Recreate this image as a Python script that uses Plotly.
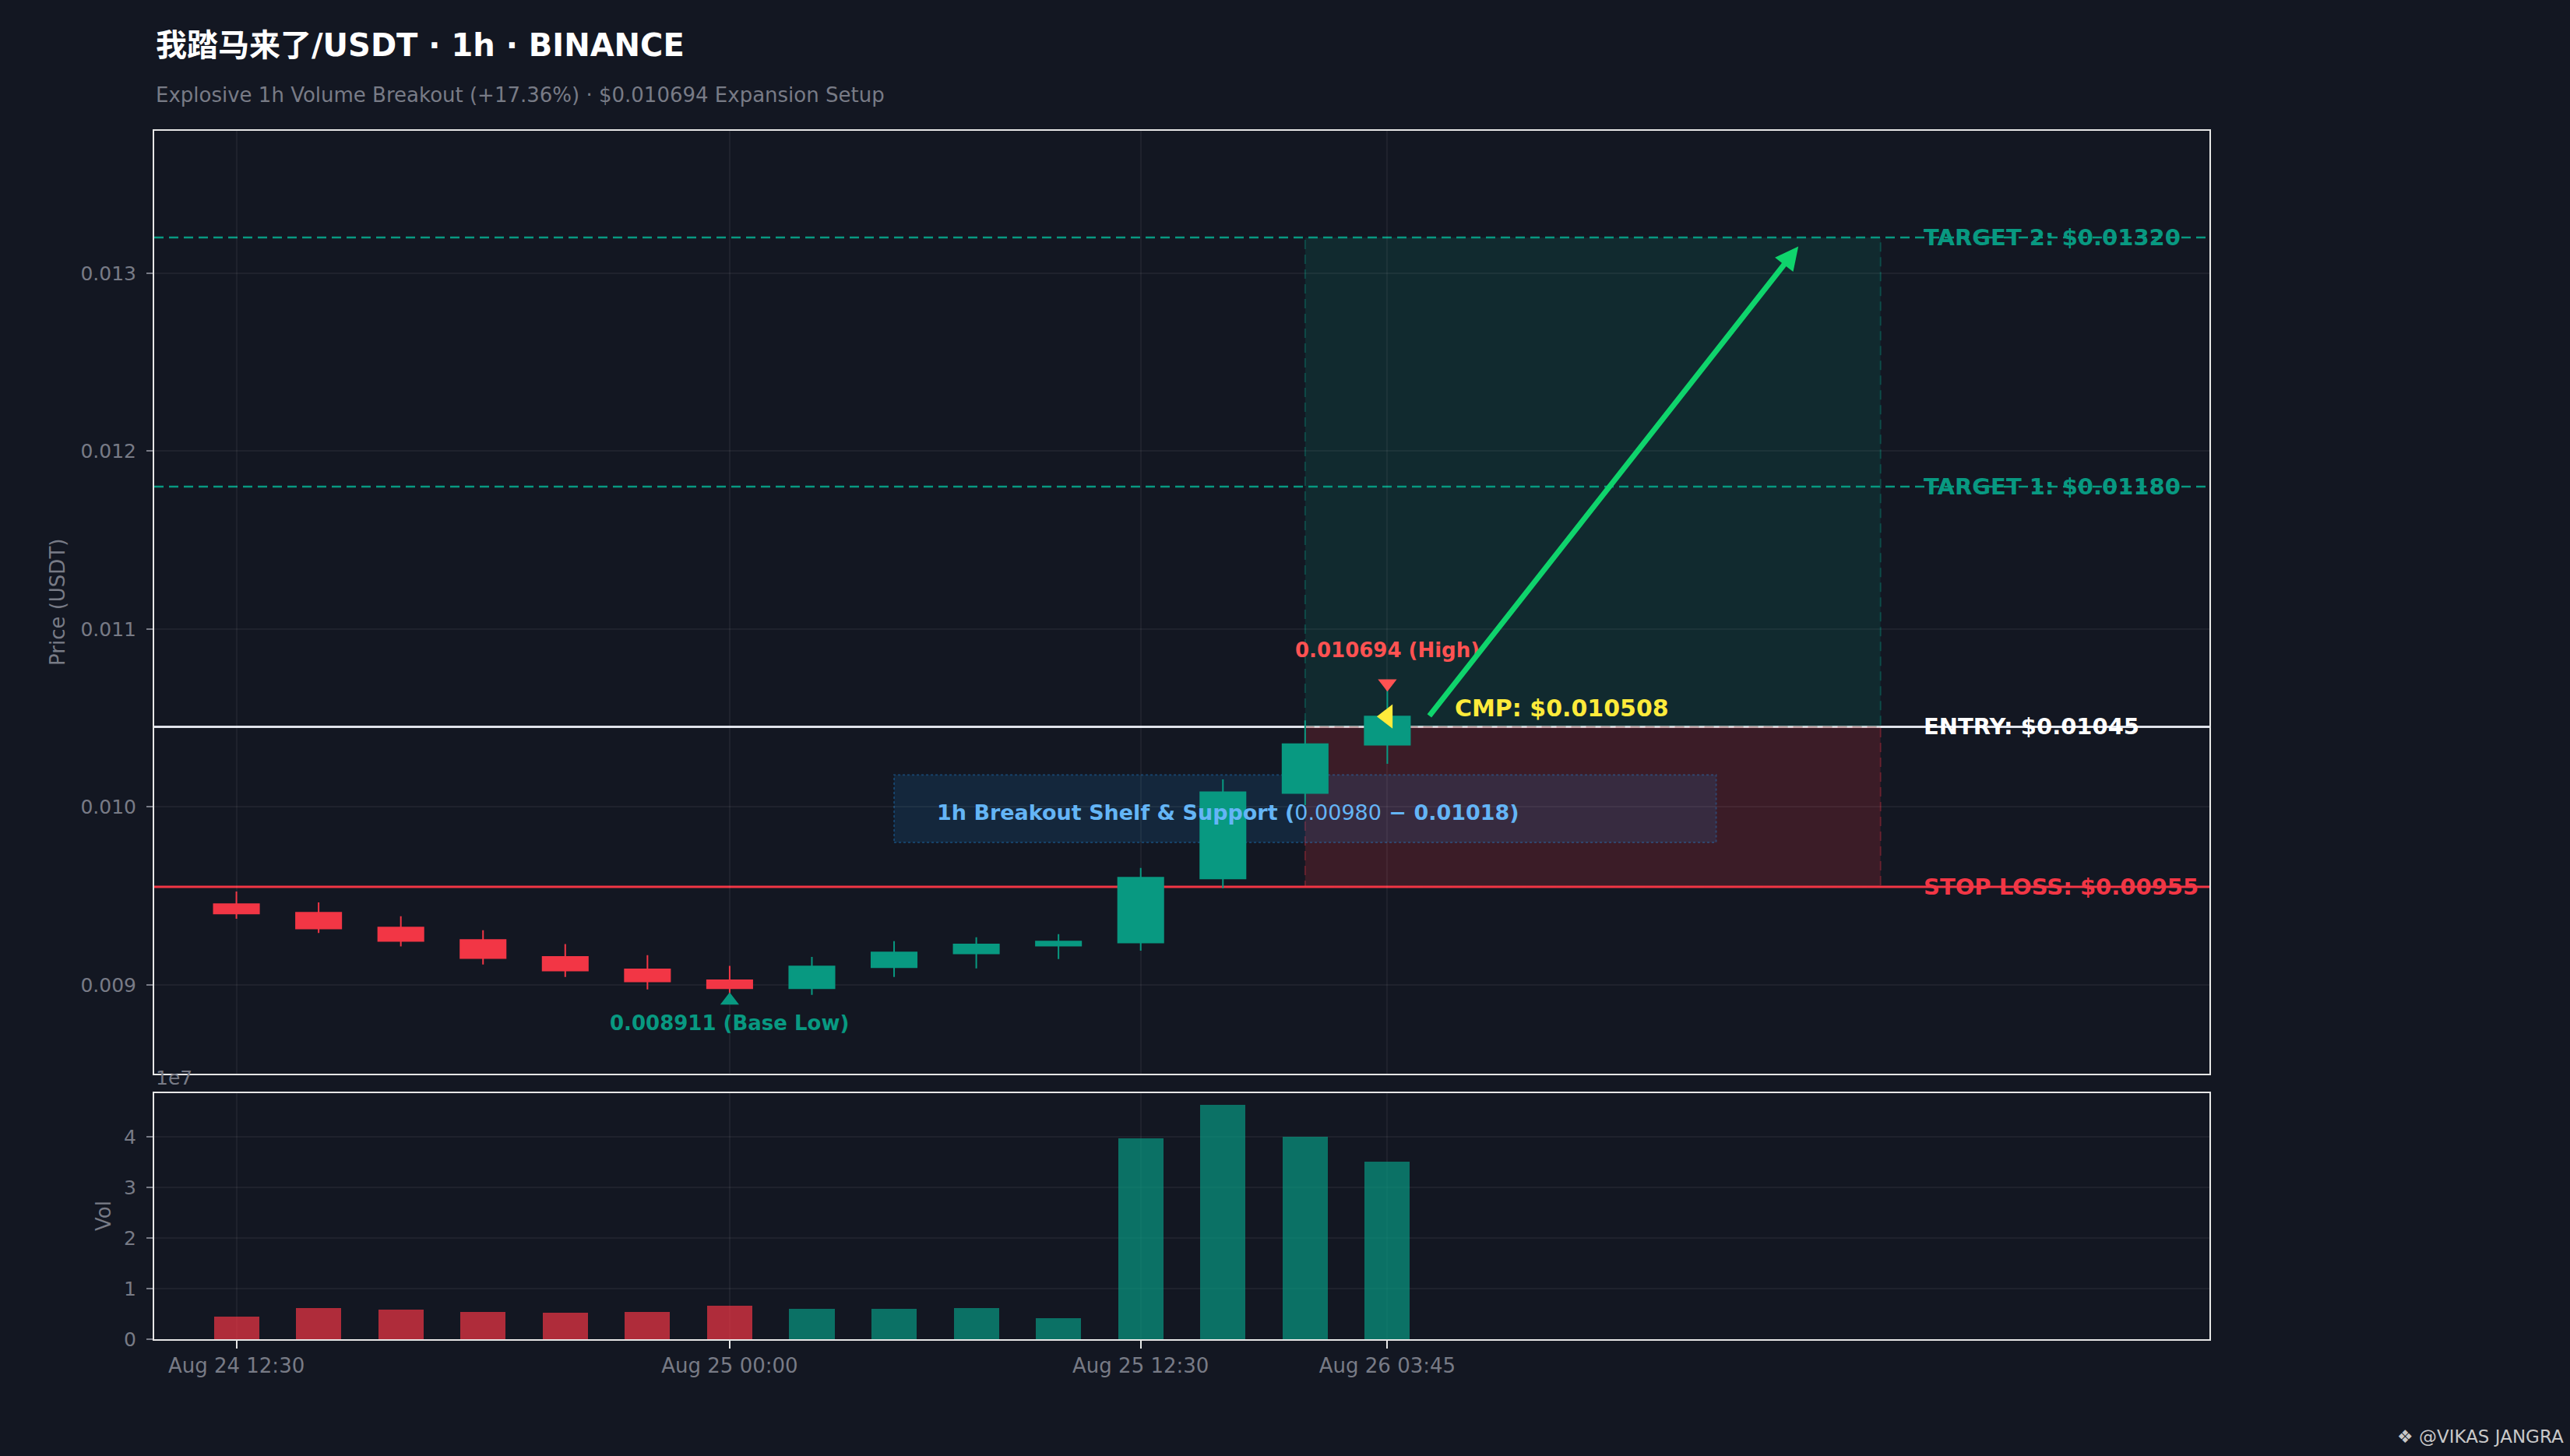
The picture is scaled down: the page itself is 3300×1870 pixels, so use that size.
import plotly.graph_objects as go

# ---------------- data ----------------
bar_idx = list(range(15))
tick_idx = [0, 6, 11, 14]
tick_text = ["Aug 24 12:30", "Aug 25 00:00", "Aug 25 12:30", "Aug 26 03:45"]

opens = [0.009453, 0.009405, 0.009322, 0.009252, 0.009156, 0.009086, 0.009025,
         0.008980, 0.009098, 0.009176, 0.009220, 0.009237, 0.009597, 0.010078, 0.010349]
highs = [0.009524, 0.009463, 0.009385, 0.009306, 0.009229, 0.009166, 0.009106,
         0.009157, 0.009245, 0.009267, 0.009284, 0.009656, 0.010154, 0.010486, 0.010694]
lows = [0.009371, 0.009291, 0.009216, 0.009114, 0.009044, 0.008974, 0.008911,
        0.008943, 0.009044, 0.009092, 0.009144, 0.009192, 0.009543, 0.010010, 0.010242]
closes = [0.009401, 0.009316, 0.009246, 0.009150, 0.009080, 0.009019, 0.008980,
          0.009103, 0.009182, 0.009226, 0.009243, 0.009602, 0.010082, 0.010352, 0.010508]
volumes = [0.452e7, 0.621e7, 0.590e7, 0.544e7, 0.529e7, 0.544e7, 0.668e7,
           0.606e7, 0.606e7, 0.621e7, 0.421e7, 3.98e7, 4.64e7, 4.01e7, 3.52e7]

price_ticks = [0.009, 0.010, 0.011, 0.012, 0.013]
vol_ticks = [0, 1e7, 2e7, 3e7, 4e7]
vol_tick_text = ["0", "1", "2", "3", "4"]

entry = 0.01045
stop = 0.00955
target1 = 0.0118
target2 = 0.0132
shelf_lo, shelf_hi = 0.00980, 0.01018
cmp_price = 0.010508
high_idx, high_price = 14, 0.010694
low_idx, low_price = 6, 0.008911
zone_x = [13, 20]
shelf_x = [8, 18]
label_x = 20.5
arrow_from = (14.5, 0.010505)
arrow_to = (19, 0.01315)

# ---------------- style ----------------
BG = "#131722"
GREEN = "#089981"
RED = "#f23645"
GREY = "#787b86"
FONT = "DejaVu Sans, Noto Sans CJK SC, sans-serif"
GRID = "rgba(255,255,255,0.05)"
FRAME = "#e6e6e6"

W, H = 3300, 1870
ML, MR, MT, MB = 198, 463, 168, 150
plot_h = H - MT - MB
price_dom = [(H - MB - 1379) / plot_h, 1.0]
vol_dom = [0.0, (H - MB - 1404) / plot_h]


def py(pix_y):
    return (H - MB - pix_y) / plot_h


def px(pix_x):
    return (pix_x - ML) / (W - ML - MR)


fig = go.Figure()

fig.add_trace(go.Candlestick(
    x=bar_idx, open=opens, high=highs, low=lows, close=closes,
    increasing=dict(line=dict(color=GREEN, width=2), fillcolor=GREEN),
    decreasing=dict(line=dict(color=RED, width=2), fillcolor=RED),
    whiskerwidth=0, xaxis="x", yaxis="y", showlegend=False, hoverinfo="skip",
))

vol_colors = ["rgba(8,153,129,0.7)" if c >= o else "rgba(242,54,69,0.7)"
              for o, c in zip(opens, closes)]
fig.add_trace(go.Bar(
    x=bar_idx, y=volumes, marker=dict(color=vol_colors, line=dict(width=0)),
    width=0.55, xaxis="x2", yaxis="y2", showlegend=False, hoverinfo="skip",
))

# markers
fig.add_trace(go.Scatter(
    x=[high_idx], y=[high_price], mode="markers",
    marker=dict(symbol="triangle-down", size=21, color="#ff5252"),
    xaxis="x", yaxis="y", showlegend=False, hoverinfo="skip"))
fig.add_trace(go.Scatter(
    x=[low_idx], y=[low_price], mode="markers",
    marker=dict(symbol="triangle-up", size=21, color=GREEN),
    xaxis="x", yaxis="y", showlegend=False, hoverinfo="skip"))
fig.add_trace(go.Scatter(
    x=[high_idx], y=[cmp_price], mode="markers",
    marker=dict(symbol="triangle-left", size=27, color="#ffeb3b"),
    xaxis="x", yaxis="y", showlegend=False, hoverinfo="skip"))

shapes = []
# reward / risk zones
shapes.append(dict(type="rect", xref="x", yref="y", x0=zone_x[0], x1=zone_x[1],
                   y0=entry, y1=target2, fillcolor="rgba(8,153,129,0.15)",
                   line=dict(color="rgba(8,153,129,0.35)", width=2, dash="12px,7px"),
                   layer="below"))
shapes.append(dict(type="rect", xref="x", yref="y", x0=zone_x[0], x1=zone_x[1],
                   y0=stop, y1=entry, fillcolor="rgba(242,54,69,0.18)",
                   line=dict(color="rgba(242,54,69,0.3)", width=2, dash="12px,7px"),
                   layer="below"))
shapes.append(dict(type="rect", xref="x", yref="y", x0=shelf_x[0], x1=shelf_x[1],
                   y0=shelf_lo, y1=shelf_hi, fillcolor="rgba(33,150,243,0.13)",
                   line=dict(color="rgba(33,150,243,0.3)", width=2, dash="dot"),
                   layer="below"))
# levels
for val, col, dash, w in [(target2, GREEN, "12px,7px", 2.5),
                          (target1, GREEN, "12px,7px", 2.5),
                          (entry, "#e0e3eb", "solid", 3),
                          (stop, RED, "solid", 3)]:
    shapes.append(dict(type="line", xref="x domain", yref="y", x0=0, x1=1,
                       y0=val, y1=val, line=dict(color=col, width=w, dash=dash),
                       layer="below"))

ann = []
for val, col, txt in [(target2, GREEN, "TARGET 2: $0.01320"),
                      (target1, GREEN, "TARGET 1: $0.01180"),
                      (entry, "#ffffff", "ENTRY: $0.01045"),
                      (stop, RED, "STOP LOSS: $0.00955")]:
    ann.append(dict(x=label_x, y=val, xref="x", yref="y", text="<b>%s</b>" % txt,
                    showarrow=False, xanchor="left", yanchor="middle",
                    font=dict(family=FONT, size=29, color=col)))

ann.append(dict(x=high_idx, y=0.01088, xref="x", yref="y",
                text="<b>0.010694 (High)</b>", showarrow=False,
                xanchor="center", yanchor="middle",
                font=dict(family=FONT, size=26, color="#ff5252")))
ann.append(dict(x=low_idx, y=0.008786, xref="x", yref="y",
                text="<b>0.008911 (Base Low)</b>", showarrow=False,
                xanchor="center", yanchor="middle",
                font=dict(family=FONT, size=26, color=GREEN)))
ann.append(dict(x=14.8, y=0.010556, xref="x", yref="y",
                text="<b>CMP: $0.010508</b>", showarrow=False,
                xanchor="left", yanchor="middle",
                font=dict(family=FONT, size=30, color="#ffeb3b")))
ann.append(dict(x=8.5, y=0.00997, xref="x", yref="y",
                text="<b>1h Breakout Shelf & Support (</b>0.00980<b> − 0.01018)</b>",
                showarrow=False, xanchor="left", yanchor="middle",
                font=dict(family=FONT, size=27, color="#64b5f6")))
ann.append(dict(x=arrow_to[0], y=arrow_to[1], xref="x", yref="y",
                ax=arrow_from[0], ay=arrow_from[1], axref="x", ayref="y",
                text="", showarrow=True, arrowhead=2, arrowsize=0.85,
                arrowwidth=7, arrowcolor="#0fd46c"))

# titles & labels
ann.append(dict(x=0, y=py(58), xref="paper", yref="paper",
                text="<b>我踏马来了/USDT · 1h · BINANCE</b>", showarrow=False,
                xanchor="left", yanchor="middle",
                font=dict(family=FONT, size=40, color="#ffffff")))
ann.append(dict(x=0, y=py(122), xref="paper", yref="paper",
                text="Explosive 1h Volume Breakout (+17.36%) · $0.010694 Expansion Setup",
                showarrow=False, xanchor="left", yanchor="middle",
                font=dict(family=FONT, size=26, color=GREY)))
ann.append(dict(x=px(74), y=py(774), xref="paper", yref="paper",
                text="Price (USDT)", textangle=-90, showarrow=False,
                xanchor="center", yanchor="middle",
                font=dict(family=FONT, size=26, color=GREY)))
ann.append(dict(x=px(133), y=py(1562), xref="paper", yref="paper",
                text="Vol", textangle=-90, showarrow=False,
                xanchor="center", yanchor="middle",
                font=dict(family=FONT, size=26, color=GREY)))
ann.append(dict(x=0, y=py(1384), xref="paper", yref="paper",
                text="1e7", showarrow=False, xanchor="left", yanchor="middle",
                font=dict(family=FONT, size=25, color=GREY)))
ann.append(dict(x=px(3294), y=py(1845), xref="paper", yref="paper",
                text="❖ @VIKAS JANGRA", showarrow=False, xanchor="right",
                yanchor="middle", font=dict(family=FONT, size=23, color="#c8c8c8")))

axis_common = dict(showline=True, mirror=True, linecolor=FRAME, linewidth=2,
                   gridcolor=GRID, gridwidth=2, zeroline=False)

fig.update_layout(
    width=W, height=H,
    margin=dict(l=ML, r=MR, t=MT, b=MB),
    paper_bgcolor=BG, plot_bgcolor=BG,
    boxgap=0.45, boxgroupgap=0,
    bargap=0,
    shapes=shapes, annotations=ann,
    font=dict(family=FONT, color=GREY, size=24),
    xaxis=dict(domain=[0, 1], anchor="y", range=[-1, 24],
               tickmode="array", tickvals=tick_idx, ticktext=tick_text,
               showticklabels=False, ticks="",
               rangeslider=dict(visible=False), **axis_common),
    yaxis=dict(domain=price_dom, anchor="x", range=[0.0085, 0.0138],
               tickmode="array", tickvals=price_ticks,
               ticktext=["%.3f" % v for v in price_ticks],
               ticks="outside", ticklen=8, tickwidth=2, tickcolor=GREY,
               ticklabelstandoff=8,
               tickfont=dict(family=FONT, size=25, color=GREY), **axis_common),
    xaxis2=dict(domain=[0, 1], anchor="y2", matches="x", range=[-1, 24],
                tickmode="array", tickvals=tick_idx, ticktext=tick_text,
                ticks="outside", ticklen=10, tickwidth=2, tickcolor=FRAME,
                tickfont=dict(family=FONT, size=26, color=GREY), **axis_common),
    yaxis2=dict(domain=vol_dom, anchor="x2", range=[0, 4.87e7],
                tickmode="array", tickvals=vol_ticks, ticktext=vol_tick_text,
                ticks="outside", ticklen=8, tickwidth=2, tickcolor=GREY,
                ticklabelstandoff=8,
                tickfont=dict(family=FONT, size=25, color=GREY), **axis_common),
)

fig.write_html("out.html",
               config={"displayModeBar": False},
               post_script="document.body.style.margin='0';"
                           "document.body.style.background='#131722';")
